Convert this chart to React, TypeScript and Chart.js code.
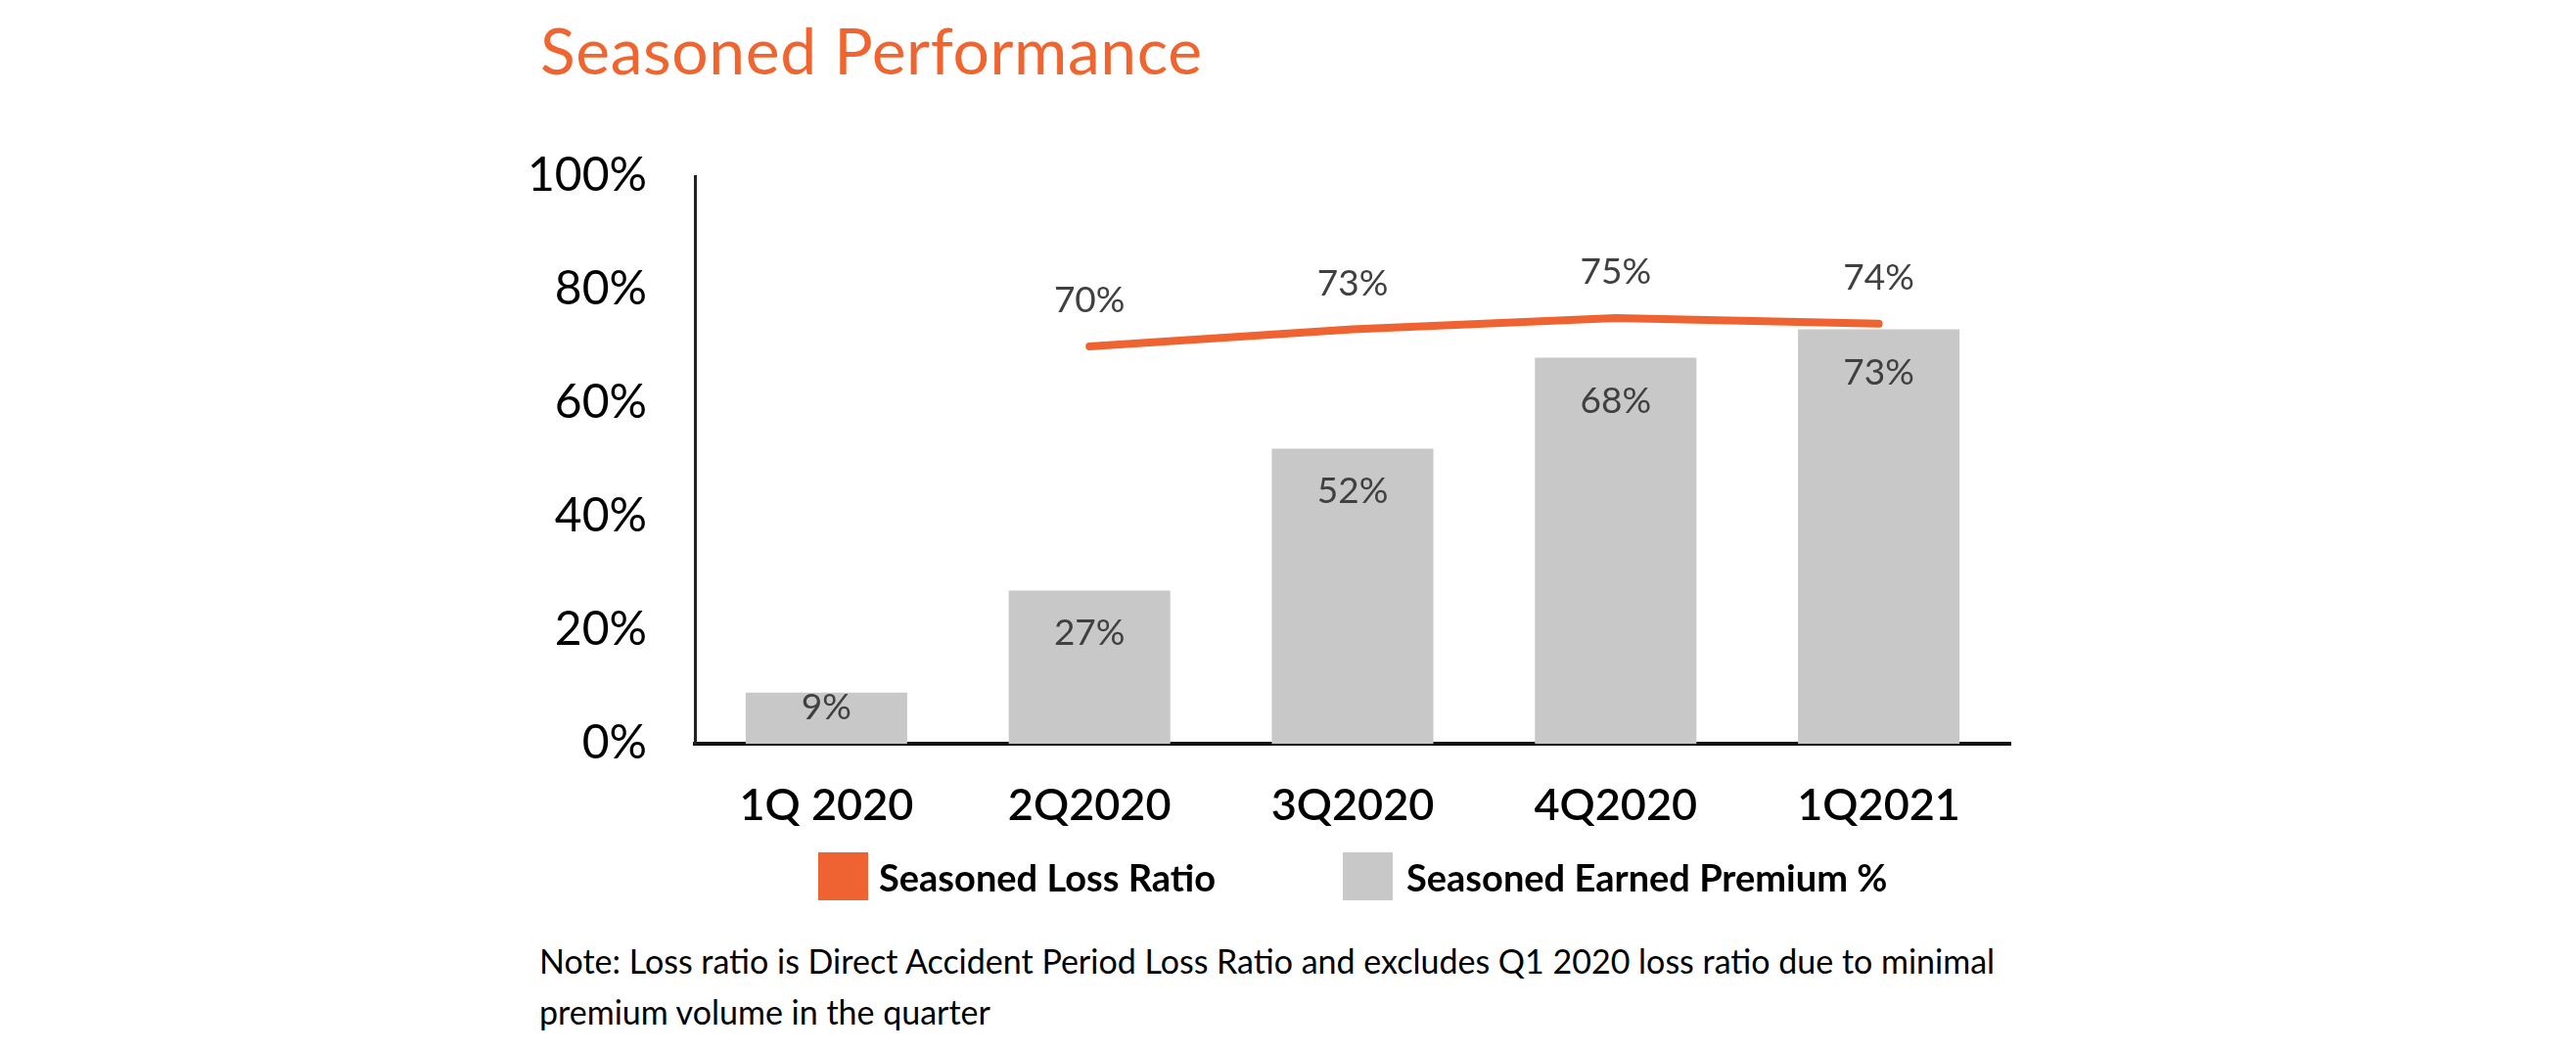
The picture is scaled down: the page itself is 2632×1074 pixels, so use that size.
import { useEffect, useRef } from "react";
import { Chart, registerables } from "chart.js";

Chart.register(...registerables);

const quarters = ["1Q 2020", "2Q2020", "3Q2020", "4Q2020", "1Q2021"];
const earnedPremium = [9, 27, 52, 68, 73];
const lossRatio = [null, 70, 73, 75, 74];
const yMin = 0;
const yMax = 100;
const yStep = 20;

const ORANGE = "#EE6331";
const GREY = "#C8C8C8";
const LABEL = "#404040";
const FONT = "Lato, 'Open Sans', sans-serif";

// value labels: inside the top of the bars, above the line points
const valueLabels = {
  id: "valueLabels",
  afterDatasetsDraw(chart: any) {
    const { ctx } = chart;
    const base = chart.scales.y.getPixelForValue(0);
    ctx.save();
    ctx.font = `37px ${FONT}`;
    ctx.fillStyle = LABEL;
    ctx.textAlign = "center";
    ctx.textBaseline = "middle";
    chart.data.datasets.forEach((ds: any, i: number) => {
      const meta = chart.getDatasetMeta(i);
      meta.data.forEach((el: any, j: number) => {
        const v = ds.data[j];
        if (v == null) return;
        const y =
          meta.type === "bar" ? Math.min(el.y + 44, base - 37) : el.y - 47;
        ctx.fillText(`${v}%`, el.x, y);
      });
    });
    ctx.restore();
  },
};

function SeasonedChart() {
  const canvasRef = useRef<HTMLCanvasElement | null>(null);

  useEffect(() => {
    if (!canvasRef.current) return;
    const chart = new Chart(canvasRef.current, {
      type: "bar",
      data: {
        labels: quarters,
        datasets: [
          {
            type: "line",
            label: "Seasoned Loss Ratio",
            data: lossRatio,
            borderColor: ORANGE,
            backgroundColor: ORANGE,
            borderWidth: 8,
            borderCapStyle: "round",
            borderJoinStyle: "round",
            pointRadius: 0,
            tension: 0,
            order: 0,
          },
          {
            type: "bar",
            label: "Seasoned Earned Premium %",
            data: earnedPremium,
            backgroundColor: GREY,
            borderWidth: 0,
            barPercentage: 0.614,
            categoryPercentage: 1,
            order: 1,
          },
        ] as any,
      },
      options: {
        responsive: false,
        animation: false,
        devicePixelRatio: 1,
        layout: { padding: { top: 180, right: 578, left: 0, bottom: 0 } },
        plugins: {
          legend: { display: false },
          tooltip: { enabled: false },
        },
        scales: {
          x: {
            z: 1,
            grid: { display: false, drawTicks: false },
            border: { display: true, color: "#111", width: 4 },
            ticks: {
              color: "#000",
              padding: 36,
              font: { family: FONT, size: 45, weight: 600 },
            },
            afterFit: (scale: any) => {
              scale.height = 120;
            },
          },
          y: {
            min: yMin,
            max: yMax,
            grid: { display: false, drawTicks: false },
            border: { display: true, color: "#222", width: 3 },
            ticks: {
              stepSize: yStep,
              color: "#000",
              padding: 49,
              font: { family: FONT, size: 48 },
              callback: (v: any) => `${v}%`,
            },
            afterFit: (scale: any) => {
              scale.width = 710;
            },
          },
        },
      },
      plugins: [valueLabels],
    });
    return () => chart.destroy();
  }, []);

  return (
    <canvas
      ref={canvasRef}
      width={2632}
      height={880}
      style={{ position: "absolute", left: 0, top: 0, width: 2632, height: 880 }}
    />
  );
}

export default function App() {
  const legendText: React.CSSProperties = {
    position: "absolute",
    top: 877,
    fontSize: 38,
    lineHeight: "38px",
    fontWeight: 700,
    color: "#000",
    whiteSpace: "nowrap",
  };
  const box: React.CSSProperties = {
    position: "absolute",
    top: 871,
    width: 51,
    height: 49,
  };
  return (
    <div
      style={{
        position: "absolute",
        left: 0,
        top: 0,
        width: 2632,
        height: 1074,
        background: "#fff",
        fontFamily: FONT,
        overflow: "hidden",
      }}
    >
      <div
        style={{
          position: "absolute",
          left: 552,
          top: 18,
          fontSize: 66,
          lineHeight: "66px",
          letterSpacing: "0.6px",
          color: "#F0652F",
          whiteSpace: "nowrap",
        }}
      >
        Seasoned Performance
      </div>
      <SeasonedChart />
      <div style={{ ...box, left: 836, background: ORANGE }} />
      <div style={{ ...legendText, left: 898 }}>Seasoned Loss Ratio</div>
      <div style={{ ...box, left: 1372, background: GREY }} />
      <div style={{ ...legendText, left: 1437 }}>Seasoned Earned Premium %</div>
      <div
        style={{
          position: "absolute",
          left: 551,
          top: 956,
          fontSize: 34,
          lineHeight: "52px",
          color: "#000",
          whiteSpace: "nowrap",
        }}
      >
        <div>
          Note: Loss ratio is Direct Accident Period Loss Ratio and excludes Q1
          2020 loss ratio due to minimal
        </div>
        <div>premium volume in the quarter</div>
      </div>
    </div>
  );
}
